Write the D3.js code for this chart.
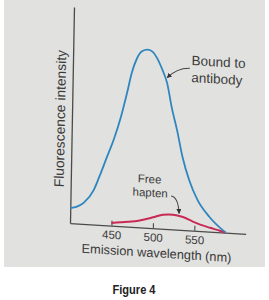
<!DOCTYPE html>
<html>
<head>
<meta charset="utf-8">
<script src="https://cdn.jsdelivr.net/npm/d3@7"></script>
<style>
  body { margin: 0; background: #fff; }
  text { font-family: "Liberation Sans", Arial, sans-serif; fill: #3a3a3a; }
</style>
</head>
<body>
<div id="chart"></div>
<script>
// Bound to antibody curve (wavelength nm, relative intensity)
const boundWl  = [400, 408, 416, 428, 436, 443, 451, 459, 466, 471, 477, 483, 490, 496, 501, 508, 514, 520, 527, 534, 543, 553, 568, 588];
const boundVal = [6.9, 7.8, 9.7, 16, 24, 31.5, 40, 50.5, 62, 71, 78, 81.5, 82.4, 81.5, 79, 73.5, 67.5, 56.5, 46, 34, 23, 14.5, 6.8, 0];

// Free hapten curve
const haptenWl  = [450, 470, 484, 500, 512, 524, 536, 548, 557, 569, 580, 588];
const haptenVal = [1.2, 2.2, 3.2, 5, 6.5, 6.8, 6, 4.2, 3, 1.8, 0.8, 0];

const xTicks = [450, 500, 550];
const xLabel = "Emission wavelength (nm)";
const yLabel = "Fluorescence intensity";
const caption = "Figure 4";

const width = 269, height = 300;

const svg = d3.select("#chart")
              .append("svg")
              .attr("width", width)
              .attr("height", height);

// the photographed page
svg.append("rect")
   .attr("x", 4).attr("y", 0)
   .attr("width", 261).attr("height", 267)
   .attr("fill", "#e1e1df");

// plot frame, skewed a little like the photo
const g = svg.append("g")
             .attr("transform", "matrix(0.998,0.062,-0.0185,1,70,223)");

const x = d3.scaleLinear().domain([400, 612]).range([0, 176]);
const y = d3.scaleLinear().domain([0, 100]).range([0, -216]);

const axisColor = "#4a4a4a";

const xAxis = g.append("g")
               .call(d3.axisBottom(x).tickValues(xTicks).tickSizeInner(-5).tickSizeOuter(0).tickPadding(5));
xAxis.attr("font-family", null).attr("font-size", null);
xAxis.select(".domain").attr("stroke", axisColor).attr("stroke-width", 1.3);
xAxis.selectAll(".tick line").attr("stroke", axisColor).attr("stroke-width", 1.1);
xAxis.selectAll(".tick text").attr("font-size", 11.5).attr("fill", "#333");

const yAxis = g.append("g")
               .call(d3.axisLeft(y).tickValues([]).tickSizeOuter(0));
yAxis.select(".domain").attr("stroke", axisColor).attr("stroke-width", 1.3);

// axis titles
g.append("text")
 .attr("x", x(505))
 .attr("y", 29)
 .attr("text-anchor", "middle")
 .attr("font-size", 12.8)
 .text(xLabel);

g.append("text")
 .attr("transform", `translate(-7,${y(48)}) rotate(-90)`)
 .attr("text-anchor", "middle")
 .attr("font-size", 13.8)
 .text(yLabel);

// curves
const line = d3.line()
               .x(d => x(d[0]))
               .y(d => y(d[1]))
               .curve(d3.curveMonotoneX);

g.append("path")
 .datum(d3.zip(haptenWl, haptenVal))
 .attr("fill", "none")
 .attr("stroke", "#c92a55")
 .attr("stroke-width", 2)
 .attr("d", line);

g.append("path")
 .datum(d3.zip(boundWl, boundVal))
 .attr("fill", "none")
 .attr("stroke", "#2f86bf")
 .attr("stroke-width", 1.8)
 .attr("d", line);

// arrowhead
svg.append("defs").append("marker")
   .attr("id", "arrow")
   .attr("viewBox", "0 0 10 10")
   .attr("refX", 9).attr("refY", 5)
   .attr("markerUnits", "userSpaceOnUse")
   .attr("markerWidth", 5).attr("markerHeight", 5)
   .attr("orient", "auto")
   .append("path")
   .attr("d", "M0,0L10,5L0,10z")
   .attr("fill", "#333");

function leader(p0, p1, p2) {
    g.append("path")
     .attr("d", `M${x(p0[0])},${y(p0[1])}Q${x(p1[0])},${y(p1[1])} ${x(p2[0])},${y(p2[1])}`)
     .attr("fill", "none")
     .attr("stroke", "#444")
     .attr("stroke-width", 1)
     .attr("marker-end", "url(#arrow)");
}

// Bound to antibody label
const bound = g.append("text").attr("font-size", 13.5);
bound.append("tspan").attr("x", x(543)).attr("y", y(76.6)).text("Bound to");
bound.append("tspan").attr("x", x(543)).attr("dy", 17).text("antibody");
leader([541, 75], [525.6, 74.8], [514, 70]);

// Free hapten label
const free = g.append("text").attr("font-size", 11.5).attr("text-anchor", "middle");
free.append("tspan").attr("x", x(495)).attr("y", y(20.8)).text("Free");
free.append("tspan").attr("x", x(496)).attr("dy", 13.6).text("hapten");
leader([521.3, 15.4], [530, 15.1], [531.3, 7.5]);

// caption under the photo
svg.append("text")
   .attr("x", 134)
   .attr("y", 294)
   .attr("text-anchor", "middle")
   .attr("font-size", 13)
   .attr("font-weight", "bold")
   .attr("textLength", 43)
   .attr("lengthAdjust", "spacingAndGlyphs")
   .style("fill", "#222")
   .text(caption);
</script>
</body>
</html>
